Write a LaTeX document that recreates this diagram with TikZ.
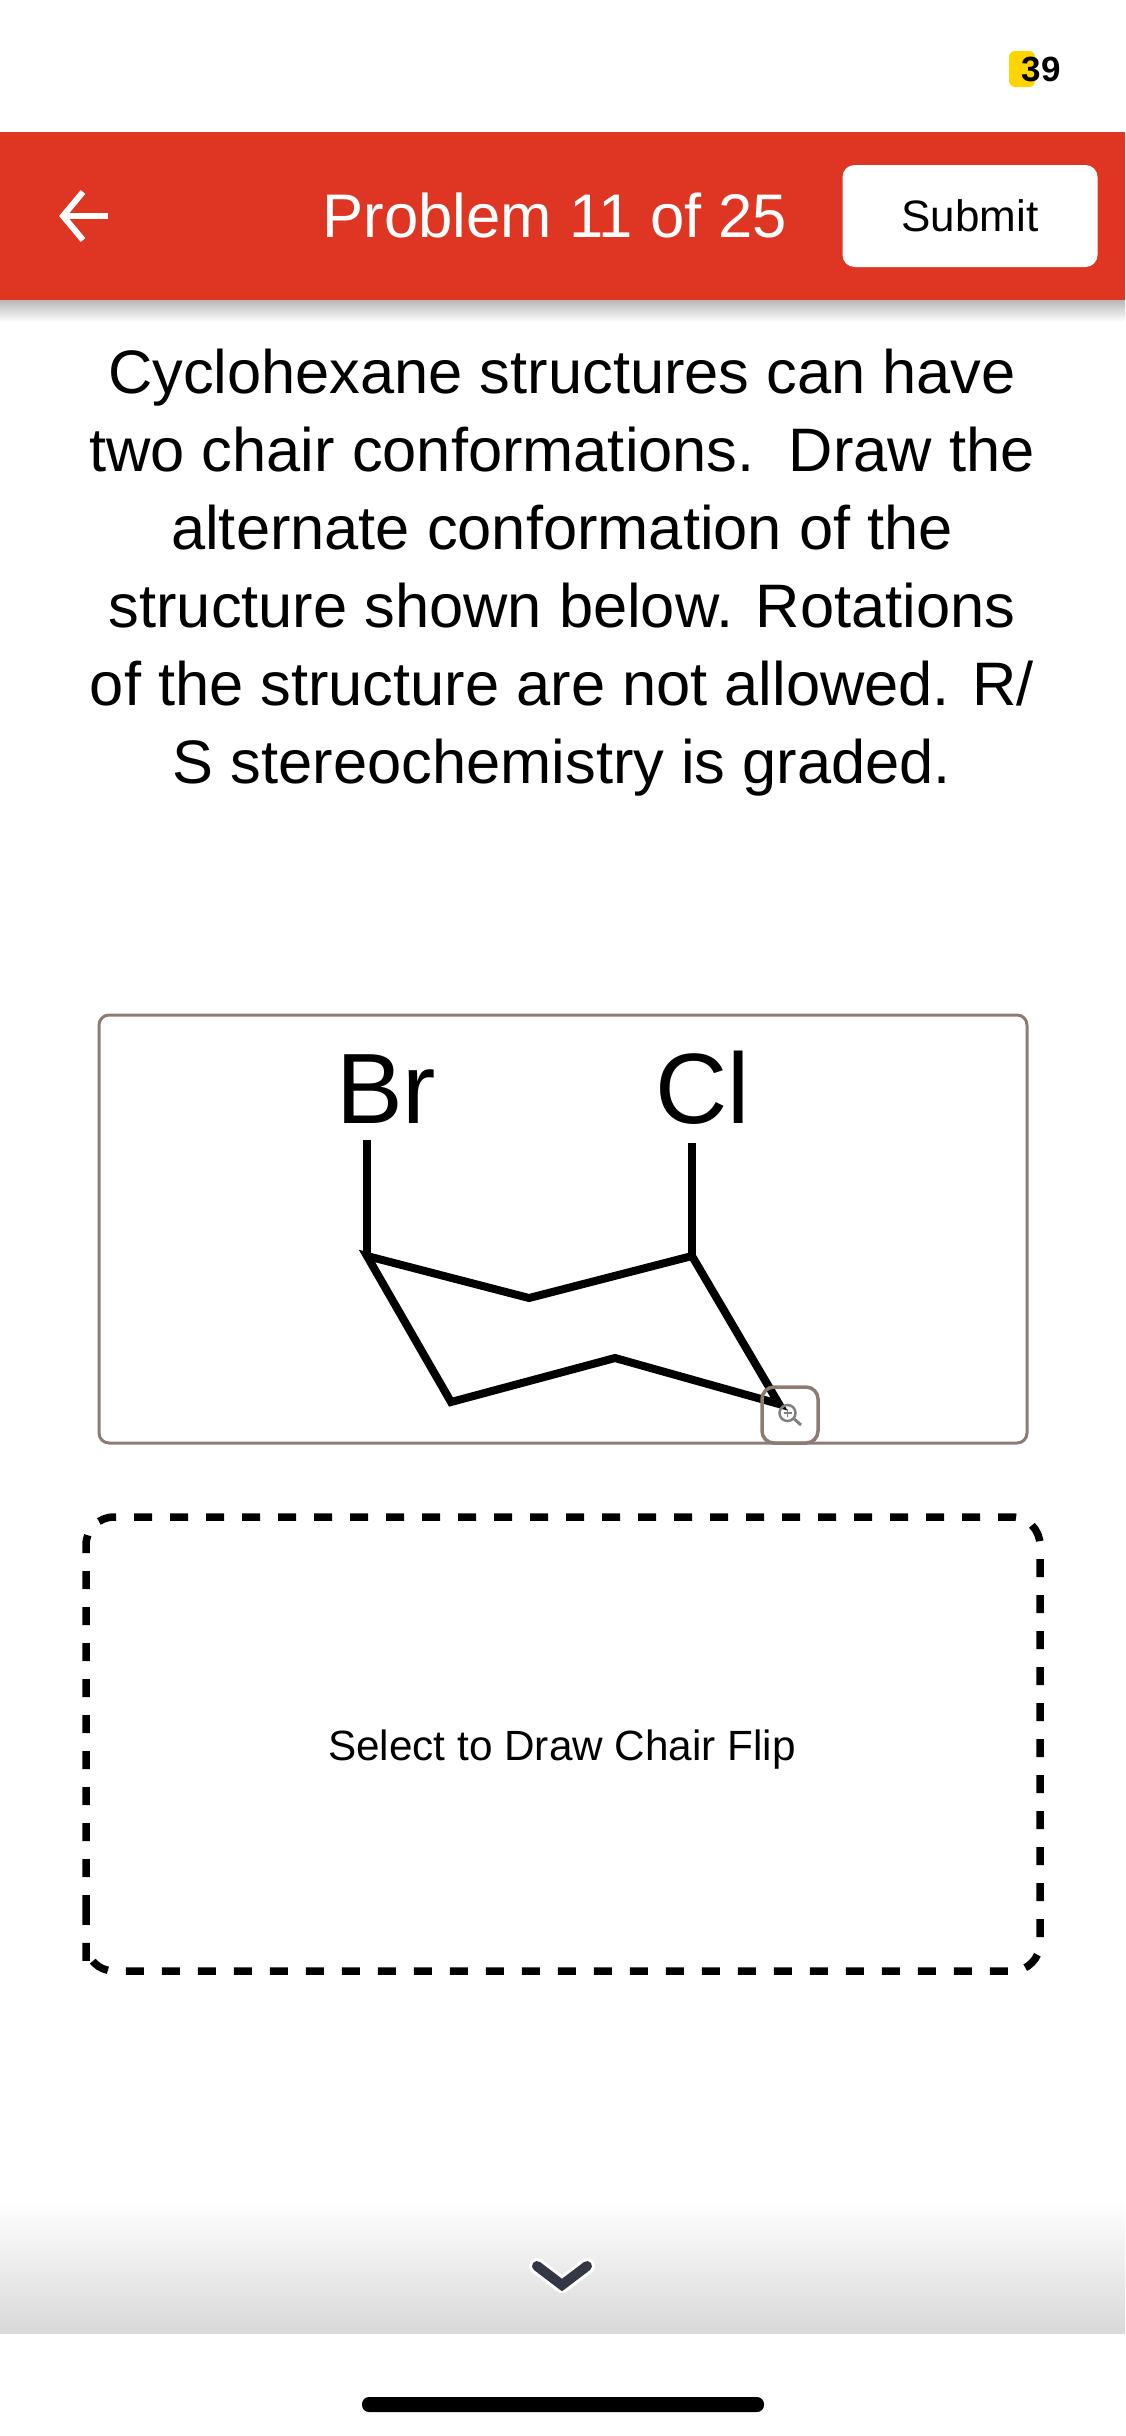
\documentclass[tikz,border=0pt]{standalone}
\usepackage{fontspec}
\setmainfont{Liberation Sans}
\definecolor{barred}{HTML}{DE3622}
\definecolor{framebrown}{HTML}{8D7B74}
\definecolor{chevgrey}{HTML}{333844}
\definecolor{badgeyellow}{HTML}{FFD400}
\begin{document}
\begin{tikzpicture}[x=1pt,y=-1pt,
  bond/.style={line width=8pt,black,line join=miter},
  atom/.style={inner sep=0pt,anchor=base,font=\fontsize{100}{100}\selectfont},
  frameline/.style={draw=framebrown,line width=3pt,rounded corners=10pt}]
\useasboundingbox (0,0) rectangle (1125,2436);
% top bar
\fill[top color=black!28,bottom color=white,draw=none] (0,300) rectangle (1125,322);
\fill[barred] (0,132) rectangle (1125,300);
\fill[badgeyellow,rounded corners=6pt] (1009,51) rectangle (1035,87);
\node[inner sep=0pt,anchor=base,font=\fontsize{35}{35}\selectfont\bfseries] (timer) at (1041,81) {39};
\coordinate (backend) at (108,216);
\coordinate (backtip) at (63,216);
\coordinate (backup) at (83,192);
\coordinate (backdown) at (83,240);
\draw[white,line width=6pt] (backend) -- (backtip);
\draw[white,line width=6pt] (backup) -- (backtip) -- (backdown);
\node[inner sep=0pt,anchor=base,text=white,font=\fontsize{61.6}{61.6}\selectfont] (title) at (555,237) {Problem 11 of 25};
\node[fill=white,rounded corners=12pt,minimum width=255pt,minimum height=102pt,inner sep=0pt] (submit) at (970,216) {};
\node[inner sep=0pt,anchor=base,font=\fontsize{44}{44}\selectfont] (submittext) at (970,231) {Submit};
% question
\node[inner sep=0pt,anchor=north,align=center,font=\fontsize{61.4}{78}\selectfont] (question) at (562,349)
  {Cyclohexane structures can have\\
   two chair conformations.~~Draw the\\
   alternate conformation of the\\
   structure shown below. Rotations\\
   of the structure are not allowed. R/\\
   S stereochemistry is graded.};
% structure box
\draw[frameline] (99,1015) rectangle (1027,1443);
\node[atom] (br) at (386,1123) {Br};
\node[atom] (cl) at (703,1123) {Cl};
\coordinate (brend) at (367,1140);
\coordinate (clend) at (692,1143);
\coordinate (c1) at (367,1256);
\coordinate (c2) at (529,1298);
\coordinate (c3) at (692,1256);
\coordinate (c4) at (779,1404);
\coordinate (c5) at (615,1358);
\coordinate (c6) at (451,1402);
\draw[bond] (brend) -- (c1);
\draw[bond] (clend) -- (c3);
\draw[bond] (c1) -- (c2) -- (c3) -- (c4) -- (c5) -- (c6) -- cycle;
% zoom button
\draw[frameline,line width=3.5pt,rounded corners=12pt] (762,1387) rectangle (818,1443);
\node[circle,draw=gray,line width=2.5pt,minimum size=16pt,inner sep=0pt] (lens) at (787.5,1413) {};
\coordinate (handle) at (801,1425);
\draw[gray,line width=3pt] (lens) -- (handle);
\draw[gray,line width=1.5pt] (lens.center) ++(-4,0) -- ++(8,0) (lens.center) ++(0,-4) -- ++(0,8);
% answer box
\draw[black,line width=7.5pt,dash pattern=on 18pt off 18pt,rounded corners=28pt]
  (86,1941) -- (86,1517) -- (1040,1517) -- (1040,1971) -- (86,1971) -- cycle;
\node[inner sep=0pt,font=\fontsize{42.3}{42.3}\selectfont] (select) at (562,1750) {Select to Draw Chair Flip};
% bottom
\fill[top color=white,bottom color=black!15,draw=none] (0,2200) rectangle (1125,2333);
\coordinate (chevl) at (537,2266);
\coordinate (chevm) at (562,2285);
\coordinate (chevr) at (587,2266);
\draw[white,line width=16pt,line cap=round,line join=round] (chevl) -- (chevm) -- (chevr);
\draw[chevgrey,line width=10pt,line cap=round,line join=miter] (chevl) -- (chevm) -- (chevr);
\fill[black,rounded corners=7pt] (362,2397) rectangle (764,2412);
\end{tikzpicture}
\end{document}
